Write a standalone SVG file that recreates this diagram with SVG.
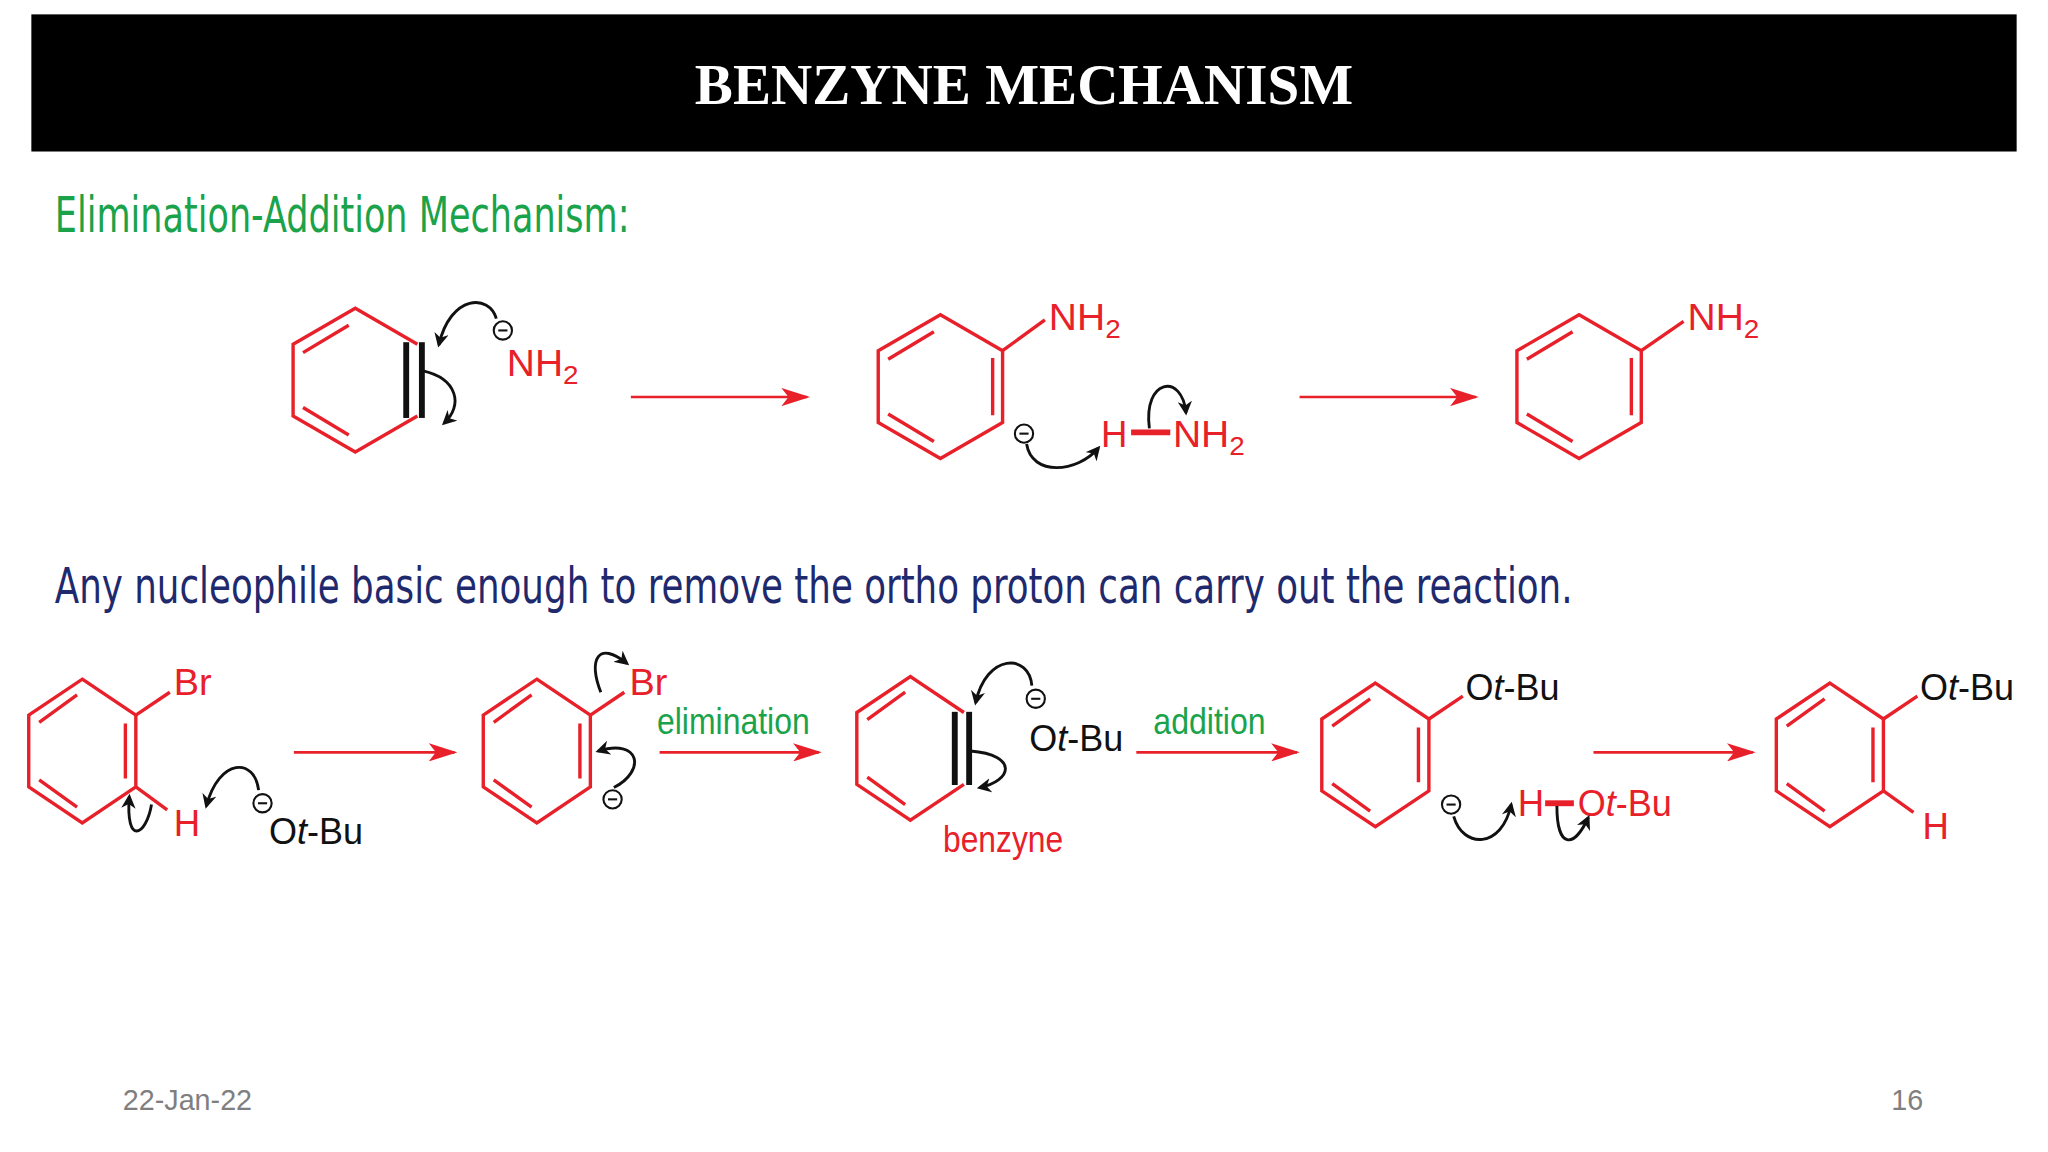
<svg xmlns="http://www.w3.org/2000/svg" width="2048" height="1152" viewBox="0 0 2048 1152">
<defs>
<style>
.r{fill:none;stroke:#e8202a;stroke-width:2.6}
.rb{fill:none;stroke:#e8202a;stroke-width:4.5}
.bar{stroke:#111;stroke-width:4.5}
.ca{fill:none;stroke:#111;stroke-width:2.2;marker-end:url(#ah)}
.ra{fill:none;stroke:#e8202a;stroke-width:2;marker-end:url(#rh)}
.ch{font-family:"Liberation Sans",Arial,sans-serif;font-size:28px}
.red{fill:#e8202a}.blk{fill:#111}.grn{fill:#1aa34a}
.cond{font-family:"DejaVu Sans Condensed","Liberation Sans",sans-serif}
</style>
<marker id="ah" viewBox="0 0 10 10" refX="8" refY="5" markerWidth="5" markerHeight="5" orient="auto"><path d="M0,0 L10,5 L0,10 L3,5 Z" fill="#111"/></marker>
<marker id="rh" viewBox="0 0 10 10" refX="9" refY="5" markerWidth="22" markerHeight="14" orient="auto" markerUnits="userSpaceOnUse" preserveAspectRatio="none"><path d="M0,0 L10,5 L0,10 L2.5,5 Z" fill="#e8202a"/></marker>
<g id="m"><circle r="7" fill="#fff" stroke="#111" stroke-width="1.6"/><line x1="-3.5" x2="3.5" stroke="#111" stroke-width="1.6"/></g>
<g id="R1"><polygon class="r" points="0,-55 47.6,-27.5 47.6,27.5 0,55 -47.6,27.5 -47.6,-27.5"/><path class="r" d="M-40,-21 L-5,-42 M-40,21 L-5,42 M40,-22 L40,22"/></g>
<g id="B1"><path class="r" d="M47.6,-27.5 L0,-55 L-47.6,-27.5 L-47.6,27.5 L0,55 L47.6,27.5 M-40,-21 L-5,-42 M-40,21 L-5,42"/></g>
<g id="R2"><polygon class="r" points="0,-55 41,-27.5 41,27.5 0,55 -41,27.5 -41,-27.5"/><path class="r" d="M-33,-22 L-4,-43 M-33,22 L-4,43 M33,-21 L33,21"/></g>
<g id="B2"><path class="r" d="M41,-27.5 L0,-55 L-41,-27.5 L-41,27.5 L0,55 L41,27.5 M-33,-22 L-4,-43 M-33,22 L-4,43"/></g>
</defs>
<rect width="2048" height="1152" fill="#fff"/>
<g transform="scale(1.30612)">
<g id="header">
<rect x="24" y="11" width="1520" height="105" fill="#000"/>
<text x="532" y="80" font-family="Liberation Serif,serif" font-weight="bold" font-size="43" fill="#fff" textLength="504" lengthAdjust="spacingAndGlyphs">BENZYNE MECHANISM</text>
</g>
<text class="cond grn" x="42" y="178" font-size="38" textLength="440" lengthAdjust="spacingAndGlyphs">Elimination-Addition Mechanism:</text>
<text class="cond" x="42" y="462" font-size="38" fill="#1f2a6e" textLength="1162" lengthAdjust="spacingAndGlyphs">Any nucleophile basic enough to remove the ortho proton can carry out the reaction.</text>
<g id="footer" font-family="Liberation Sans,sans-serif" font-size="22" fill="#7f7f7f"><text x="94" y="850">22-Jan-22</text><text x="1448" y="850">16</text></g>

<g id="benzyne1"><use href="#B1" x="272" y="291"/>
<line class="bar" x1="311" y1="262" x2="311" y2="320"/><line class="bar" x1="323" y1="262" x2="323" y2="320"/>
<use href="#m" x="385" y="253"/>
<text class="ch red" x="388" y="288" textLength="55" lengthAdjust="spacingAndGlyphs">NH<tspan font-size="20" dy="6">2</tspan></text>
<path class="ca" d="M380,244 C375,225 345,225 336,264"/>
<path class="ca" d="M324,284 C350,290 355,310 340,324"/></g>
<g id="anion1"><use href="#R1" x="720" y="296"/>
<line class="r" x1="767.6" y1="268.5" x2="800" y2="245"/>
<text class="ch red" x="803" y="253" textLength="55" lengthAdjust="spacingAndGlyphs">NH<tspan font-size="20" dy="6">2</tspan></text>
<use href="#m" x="784" y="332"/>
<path class="ca" d="M786,340 C790,365 825,362 841,343"/>
<text class="ch red" x="843" y="342">H</text>
<line class="rb" x1="866" y1="331" x2="896" y2="331"/>
<text class="ch red" x="898" y="342" textLength="55" lengthAdjust="spacingAndGlyphs">NH<tspan font-size="20" dy="6">2</tspan></text>
<path class="ca" d="M880,328 C875,290 905,285 908,316"/></g>
<g id="aniline"><use href="#R1" x="1209" y="296"/>
<line class="r" x1="1256.6" y1="268.5" x2="1289" y2="246"/>
<text class="ch red" x="1292" y="253" textLength="55" lengthAdjust="spacingAndGlyphs">NH<tspan font-size="20" dy="6">2</tspan></text></g>

<g id="bromobenzene"><use href="#R2" x="63" y="575"/>
<line class="r" x1="104" y1="547.5" x2="130" y2="530"/>
<line class="r" x1="104" y1="602.5" x2="128" y2="620"/>
<text class="ch red" x="133" y="532" textLength="29" lengthAdjust="spacingAndGlyphs">Br</text>
<text class="ch red" x="133" y="640">H</text>
<path class="ca" d="M116,616 C112,640 96,648 99,610"/>
<use href="#m" x="201" y="615"/>
<path class="ca" d="M198,605 C195,580 168,580 158,617"/>
<text class="ch blk" x="206" y="646" textLength="72" lengthAdjust="spacingAndGlyphs">O<tspan font-style="italic">t</tspan>-Bu</text></g>
<g id="carbanion"><use href="#R2" x="411" y="575"/>
<line class="r" x1="452" y1="547.5" x2="478" y2="530"/>
<text class="ch red" x="482" y="532" textLength="29" lengthAdjust="spacingAndGlyphs">Br</text>
<path class="ca" d="M460,530 C450,505 458,490 480,508"/>
<use href="#m" x="469" y="612"/>
<path class="ca" d="M470,603 C495,590 490,565 458,575"/></g>
<g id="benzyne2"><use href="#B2" x="697" y="573"/>
<line class="bar" x1="731" y1="545" x2="731" y2="601"/><line class="bar" x1="742" y1="545" x2="742" y2="601"/>
<use href="#m" x="793" y="535"/>
<path class="ca" d="M790,525 C788,500 755,500 747,538"/>
<text class="ch blk" x="788" y="575" textLength="72" lengthAdjust="spacingAndGlyphs">O<tspan font-style="italic">t</tspan>-Bu</text>
<path class="ca" d="M743,575 C780,578 775,598 750,603"/>
<text class="ch red" x="722" y="652" font-size="26" textLength="92" lengthAdjust="spacingAndGlyphs">benzyne</text></g>
<g id="ether-anion"><use href="#R2" x="1053" y="578"/>
<line class="r" x1="1094" y1="550.5" x2="1120" y2="533"/>
<text class="ch blk" x="1122" y="536" textLength="72" lengthAdjust="spacingAndGlyphs">O<tspan font-style="italic">t</tspan>-Bu</text>
<use href="#m" x="1111" y="616"/>
<path class="ca" d="M1113,625 C1120,650 1150,650 1157,616"/>
<text class="ch red" x="1162" y="625">H</text>
<line class="rb" x1="1183" y1="615" x2="1205" y2="615"/>
<text class="ch red" x="1208" y="625" textLength="72" lengthAdjust="spacingAndGlyphs">O<tspan font-style="italic">t</tspan>-Bu</text>
<path class="ca" d="M1192,617 C1192,650 1205,650 1216,626"/></g>
<g id="ether"><use href="#R2" x="1401" y="578"/>
<line class="r" x1="1442" y1="550.5" x2="1468" y2="533"/>
<line class="r" x1="1442" y1="605.5" x2="1465" y2="622"/>
<text class="ch blk" x="1470" y="536" textLength="72" lengthAdjust="spacingAndGlyphs">O<tspan font-style="italic">t</tspan>-Bu</text>
<text class="ch red" x="1472" y="642">H</text></g>

<g id="connectors">
<line class="ra" x1="483" y1="304" x2="618" y2="304"/>
<line class="ra" x1="995" y1="304" x2="1130" y2="304"/>
<line class="ra" x1="225" y1="576" x2="348" y2="576"/>
<line class="ra" x1="505" y1="576" x2="627" y2="576"/>
<line class="ra" x1="870" y1="576" x2="993" y2="576"/>
<line class="ra" x1="1220" y1="576" x2="1342" y2="576"/>
<text class="ch grn" x="503" y="562" font-size="26" textLength="117" lengthAdjust="spacingAndGlyphs">elimination</text>
<text class="ch grn" x="883" y="562" font-size="26" textLength="86" lengthAdjust="spacingAndGlyphs">addition</text>
</g>
</g>
</svg>
